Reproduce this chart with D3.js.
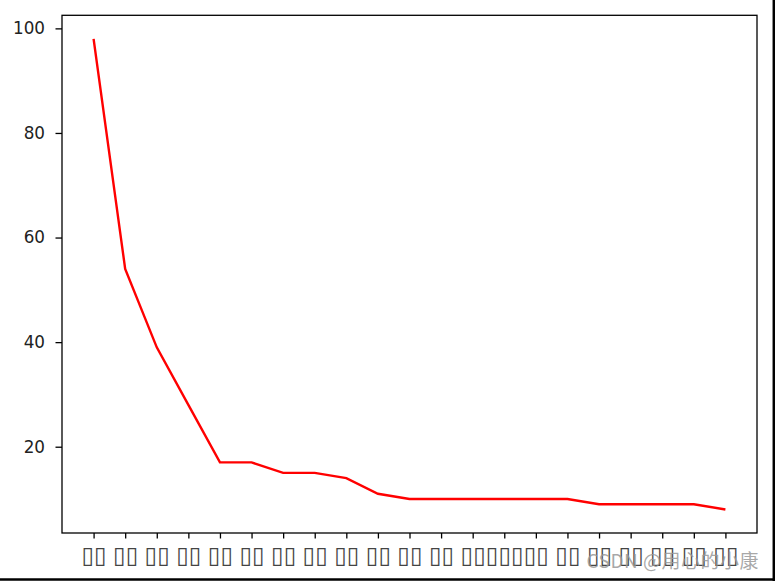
<!DOCTYPE html>
<html>
<head>
<meta charset="utf-8">
<script src="https://cdn.jsdelivr.net/npm/d3@7"></script>
<style>
  html, body { margin: 0; padding: 0; background: #fff; }
  svg text { font-family: "DejaVu Sans", sans-serif; }
</style>
</head>
<body>
<div id="chart"></div>
<script>
// tick labels came out as missing-glyph boxes in the original
let categories = ["▯▯", "▯▯", "▯▯", "▯▯", "▯▯", "▯▯", "▯▯", "▯▯", "▯▯", "▯▯", "▯▯",
    "▯▯", "▯▯", "▯▯▯", "▯▯", "▯▯", "▯▯", "▯▯", "▯▯", "▯▯", "▯▯"];
let counts = [98, 54, 39, 28, 17, 17, 15, 15, 14, 11, 10, 10, 10, 10, 10, 10, 9, 9, 9, 9, 8];
let yTicks = [20, 40, 60, 80, 100];

let width = 775;
let height = 581;
let plotLeft = 62, plotRight = 757, plotTop = 15.3, plotBottom = 533;

let svg = d3.select("#chart")
    .append("svg")
    .attr("width", width)
    .attr("height", height);

let n = counts.length;
let x = d3.scaleLinear()
    .domain([-0.05 * (n - 1), (n - 1) * 1.05])
    .range([plotLeft, plotRight]);

let ymin = d3.min(counts), ymax = d3.max(counts);
let pad = (ymax - ymin) * 0.05;
let y = d3.scaleLinear()
    .domain([ymin - pad, ymax + pad])
    .range([plotBottom, plotTop]);

// y axis
let yAxis = svg.append("g")
    .attr("transform", "translate(" + plotLeft + ",0)")
    .call(d3.axisLeft(y).tickValues(yTicks).tickSize(6.5).tickPadding(10.5));
yAxis.select(".domain").remove();
yAxis.selectAll("line").attr("stroke", "#000").attr("stroke-width", 1.3);
yAxis.selectAll("text")
    .style("font-size", "16.8px")
    .style("font-family", "DejaVu Sans")
    .attr("fill", "#222");

// x axis
let xAxis = svg.append("g")
    .attr("transform", "translate(0," + plotBottom + ")")
    .call(d3.axisBottom(x)
        .tickValues(d3.range(n))
        .tickFormat(i => categories[i])
        .tickSize(5.5)
        .tickPadding(8));
xAxis.select(".domain").remove();
xAxis.selectAll("line").attr("stroke", "#000").attr("stroke-width", 1.3);
xAxis.selectAll("text")
    .style("font-size", "23px")
    .style("font-family", "DejaVu Sans")
    .attr("fill", "#444");

// the line
let line = d3.line()
    .x((d, i) => x(i))
    .y(d => y(d));

svg.append("path")
    .datum(counts)
    .attr("d", line)
    .attr("fill", "none")
    .attr("stroke", "red")
    .attr("stroke-width", 2.4);

// frame
svg.append("rect")
    .attr("x", plotLeft)
    .attr("y", plotTop)
    .attr("width", plotRight - plotLeft)
    .attr("height", plotBottom - plotTop)
    .attr("fill", "none")
    .attr("stroke", "#000")
    .attr("stroke-width", 1.3);

// watermark
svg.append("text")
    .attr("x", 759)
    .attr("y", 568)
    .attr("text-anchor", "end")
    .style("font-family", "'Noto Sans CJK SC', sans-serif")
    .style("font-size", "19px")
    .style("letter-spacing", "0.5px")
    .attr("fill", "#999")
    .attr("fill-opacity", 0.85)
    .text("CSDN @用心的小康");

// screenshot border
svg.append("line")
    .attr("x1", 0).attr("x2", width)
    .attr("y1", 579.5).attr("y2", 579.5)
    .attr("stroke", "#000").attr("stroke-width", 2.5);
svg.append("line")
    .attr("x1", 773.8).attr("x2", 773.8)
    .attr("y1", 0).attr("y2", height)
    .attr("stroke", "#000").attr("stroke-width", 2.5);
</script>
</body>
</html>
